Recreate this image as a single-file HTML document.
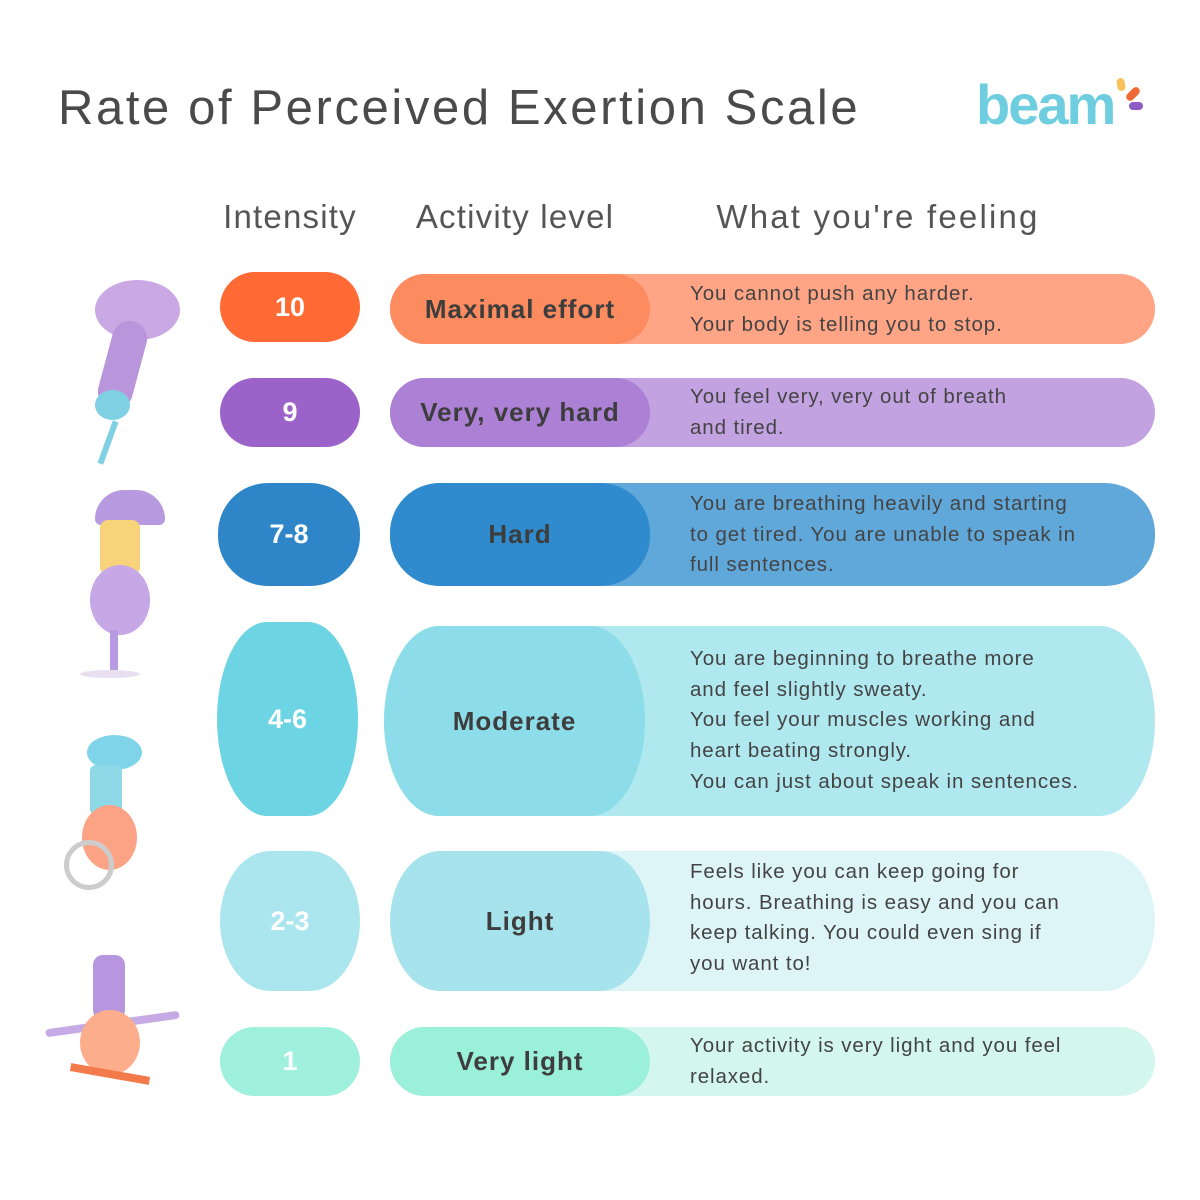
<!DOCTYPE html>
<html><head><meta charset="utf-8">
<style>
body{margin:0;width:1200px;height:1200px;background:#fff;position:relative;overflow:hidden;font-family:"Liberation Sans",sans-serif;}
.abs{position:absolute;}
.title{left:58px;top:80px;font-size:49px;color:#4a4a4a;letter-spacing:2.6px;white-space:nowrap;}
.hdr{top:198px;font-size:33px;color:#555;text-align:center;width:300px;letter-spacing:1.2px;}
.pill{position:absolute;color:#fff;font-weight:bold;font-size:27px;display:flex;align-items:center;justify-content:center;}
.bar{position:absolute;}
.bar .r{position:absolute;left:0;top:0;right:0;bottom:0;}
.bar .l{position:absolute;left:0;top:0;bottom:0;display:flex;align-items:center;justify-content:center;font-weight:bold;font-size:26px;color:#3d3d3d;letter-spacing:1px;}
.bar .t{position:absolute;font-size:20.5px;line-height:30.7px;color:#444;letter-spacing:0.9px;white-space:nowrap;}
.fig{position:absolute;}
</style></head><body>
<div class="abs title">Rate of Perceived Exertion Scale</div>
<div class="abs" style="left:976px;top:70px;width:175px;height:65px;">
 <div style="position:absolute;left:0;top:2px;font-size:56px;font-weight:bold;color:#6fcde0;letter-spacing:-2px;">beam</div>
 <div style="position:absolute;left:141px;top:8px;width:8px;height:13px;background:#f7c35a;border-radius:4px;transform:rotate(-10deg)"></div>
 <div style="position:absolute;left:153px;top:16px;width:8px;height:16px;background:#f06a35;border-radius:4px;transform:rotate(45deg)"></div>
 <div style="position:absolute;left:153px;top:32px;width:14px;height:8px;background:#8e5cc4;border-radius:4px;"></div>
</div>
<div class="abs hdr" style="left:140px">Intensity</div>
<div class="abs hdr" style="left:365px">Activity level</div>
<div class="abs hdr" style="left:678px;width:400px;letter-spacing:2.2px">What you're feeling</div>

<div class="pill" style="left:220px;top:272px;width:140px;height:70px;border-radius:35px;background:#ff6a35">10</div>
<div class="bar" style="left:390px;top:274px;width:765px;height:70px;">
 <div class="r" style="background:#ffa585;border-radius:35px"></div>
 <div class="l" style="width:260px;background:#fd8b60;border-radius:35px">Maximal effort</div>
 <div class="t" style="left:300px;top:5px">You cannot push any harder.<br>Your body is telling you to stop.</div>
</div>
<div class="pill" style="left:220px;top:378px;width:140px;height:69px;border-radius:35px;background:#9b63c9">9</div>
<div class="bar" style="left:390px;top:378px;width:765px;height:69px;">
 <div class="r" style="background:#c2a2e0;border-radius:35px"></div>
 <div class="l" style="width:260px;background:#ac81d5;border-radius:35px">Very, very hard</div>
 <div class="t" style="left:300px;top:4px">You feel very, very out of breath<br>and tired.</div>
</div>
<div class="pill" style="left:218px;top:483px;width:142px;height:103px;border-radius:50px;background:#2e86c8">7-8</div>
<div class="bar" style="left:390px;top:483px;width:765px;height:103px;">
 <div class="r" style="background:#60a8da;border-radius:50px"></div>
 <div class="l" style="width:260px;background:#2f8bcd;border-radius:50px">Hard</div>
 <div class="t" style="left:300px;top:6px">You are breathing heavily and starting<br>to get tired. You are unable to speak in<br>full sentences.</div>
</div>
<div class="pill" style="left:217px;top:622px;width:141px;height:194px;border-radius:50px / 50%;background:#6dd4e3">4-6</div>
<div class="bar" style="left:384px;top:626px;width:771px;height:190px;">
 <div class="r" style="background:#b0e8f0;border-radius:55px / 50%"></div>
 <div class="l" style="width:261px;background:#8cdde9;border-radius:55px / 50%">Moderate</div>
 <div class="t" style="left:306px;top:18px">You are beginning to breathe more<br>and feel slightly sweaty.<br>You feel your muscles working and<br>heart beating strongly.<br>You can just about speak in sentences.</div>
</div>
<div class="pill" style="left:220px;top:851px;width:140px;height:140px;border-radius:50px / 50%;background:#abe6ef">2-3</div>
<div class="bar" style="left:390px;top:851px;width:765px;height:140px;">
 <div class="r" style="background:#def5f8;border-radius:50px / 50%"></div>
 <div class="l" style="width:260px;background:#a7e3ec;border-radius:50px / 50%">Light</div>
 <div class="t" style="left:300px;top:6px">Feels like you can keep going for<br>hours. Breathing is easy and you can<br>keep talking. You could even sing if<br>you want to!</div>
</div>
<div class="pill" style="left:220px;top:1027px;width:140px;height:69px;border-radius:35px;background:#9ff0dc">1</div>
<div class="bar" style="left:390px;top:1027px;width:765px;height:69px;">
 <div class="r" style="background:#d3f7ee;border-radius:35px"></div>
 <div class="l" style="width:260px;background:#9af0d8;border-radius:35px">Very light</div>
 <div class="t" style="left:300px;top:4px">Your activity is very light and you feel<br>relaxed.</div>
</div>

<div class="fig" style="left:90px;top:280px;width:100px;height:185px;">
 <div style="position:absolute;left:5px;top:0;width:85px;height:60px;background:#c9a8e3;border-radius:50%"></div>
 <div style="position:absolute;left:15px;top:40px;width:35px;height:90px;background:#b996dc;border-radius:18px;transform:rotate(15deg)"></div>
 <div style="position:absolute;left:5px;top:110px;width:35px;height:30px;background:#7fd0e2;border-radius:50%"></div>
 <div style="position:absolute;left:15px;top:140px;width:6px;height:45px;background:#7fd0e2;transform:rotate(20deg)"></div>
</div>
<div class="fig" style="left:70px;top:490px;width:100px;height:190px;">
 <div style="position:absolute;left:25px;top:0;width:70px;height:35px;background:#b79ae0;border-radius:30px 30px 6px 6px"></div>
 <div style="position:absolute;left:30px;top:30px;width:40px;height:55px;background:#f7d47a;border-radius:8px"></div>
 <div style="position:absolute;left:20px;top:75px;width:60px;height:70px;background:#c6a8e6;border-radius:50%"></div>
 <div style="position:absolute;left:40px;top:140px;width:8px;height:40px;background:#b79ae0"></div>
 <div style="position:absolute;left:10px;top:180px;width:60px;height:8px;background:#e8e0f0;border-radius:50%"></div>
</div>
<div class="fig" style="left:62px;top:735px;width:95px;height:165px;">
 <div style="position:absolute;left:25px;top:0;width:55px;height:35px;background:#7fd4ea;border-radius:50%"></div>
 <div style="position:absolute;left:28px;top:30px;width:32px;height:50px;background:#8ed9e8;border-radius:6px"></div>
 <div style="position:absolute;left:20px;top:70px;width:55px;height:65px;background:#fca386;border-radius:50%"></div>
 <div style="position:absolute;left:2px;top:105px;width:50px;height:50px;border:5px solid #ccc;border-radius:50%;box-sizing:border-box"></div>
</div>
<div class="fig" style="left:45px;top:955px;width:140px;height:145px;">
 <div style="position:absolute;left:48px;top:0;width:32px;height:65px;background:#b796df;border-radius:10px"></div>
 <div style="position:absolute;left:0;top:65px;width:135px;height:8px;background:#c5aae6;border-radius:4px;transform:rotate(-8deg)"></div>
 <div style="position:absolute;left:35px;top:55px;width:60px;height:65px;background:#fcae8c;border-radius:50%"></div>
 <div style="position:absolute;left:25px;top:115px;width:80px;height:8px;background:#f37a4a;transform:rotate(10deg)"></div>
</div>
</body></html>
